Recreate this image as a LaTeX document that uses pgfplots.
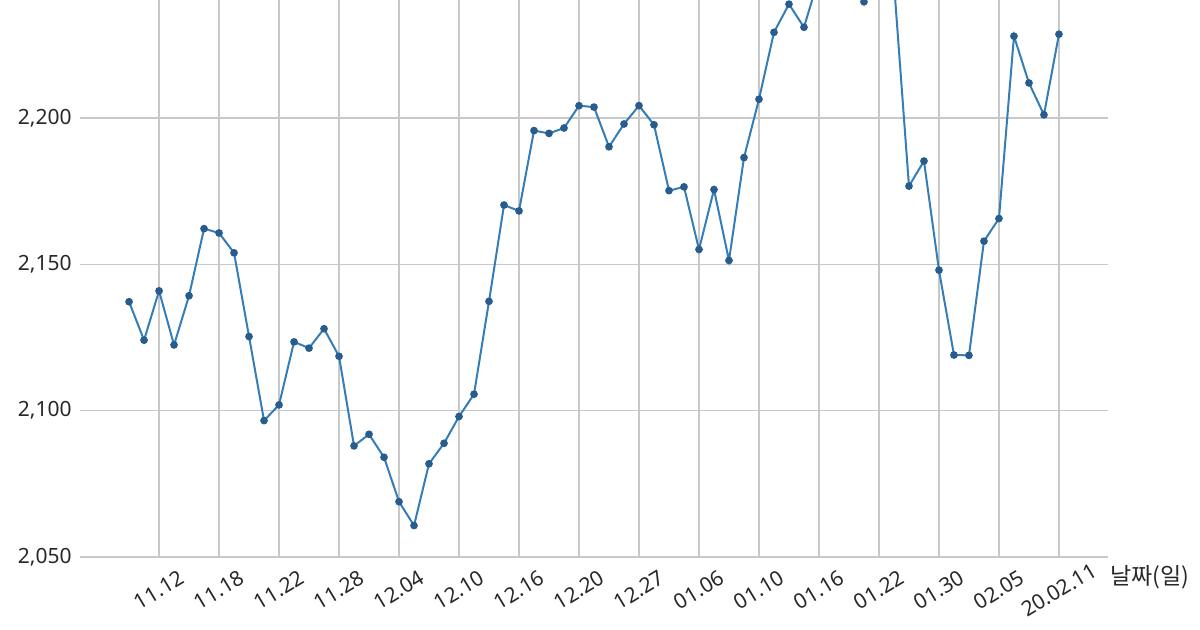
\documentclass[border=0pt]{standalone}
\usepackage{fontspec}
\setmainfont{Noto Sans}
\newfontfamily\cjk{Noto Sans CJK KR}
\usepackage{graphicx}
\usepackage{pgfplots}
\pgfplotsset{compat=1.18}
\definecolor{lineblue}{RGB}{52,125,185}
\definecolor{markblue}{RGB}{40,92,140}
\definecolor{gridgray}{RGB}{200,200,200}
\definecolor{txt}{RGB}{40,40,40}
\newcommand{\rl}[1]{\rotatebox{31}{#1}}
\begin{document}
\begin{tikzpicture}
\useasboundingbox (0,0) rectangle (600pt,315pt);
\begin{axis}[
  at={(40pt,36.5pt)}, anchor=south west,
  scale only axis, width=514pt, height=278.5pt,
  xmin=-3.27, xmax=65.27, ymin=2050, ymax=2240.3,
  axis line style={draw=none},
  major tick length=0pt,
  grid=major,
  major grid style={gridgray, line width=0.7pt},
  xtick={2,6,10,14,18,22,26,30,34,38,42,46,50,54,58,62},
  xticklabels={\rl{11.12},\rl{11.18},\rl{11.22},\rl{11.28},\rl{12.04},\rl{12.10},\rl{12.16},\rl{12.20},\rl{12.27},\rl{01.06},\rl{01.10},\rl{01.16},\rl{01.22},\rl{01.30},\rl{02.05},\rl{20.02.11}},
  ytick={2050,2100,2150,2200},
  yticklabels={{2,050},{2,100},{2,150},{2,200}},
  xticklabel style={anchor=center, yshift=-16.5pt, font=\fontsize{10.5}{12}\selectfont, text=txt, inner sep=0pt},
  yticklabel style={anchor=east, xshift=-4pt, font=\fontsize{10.5}{12}\selectfont, text=txt, inner sep=0pt},
  xlabel={\cjk 날짜(일)},
  xlabel style={at={(rel axis cs:1,0)}, anchor=west, xshift=1pt, yshift=-10pt, inner sep=0pt, font=\fontsize{11.5}{13}\selectfont, text=txt},
  clip=true,
]
\addplot[lineblue, line width=1pt, mark=*, mark size=1.4pt, mark options={fill=markblue, draw=markblue}] table {
x y
0 2137.21
1 2124.08
2 2140.92
3 2122.45
4 2139.25
5 2162.18
6 2160.69
7 2153.92
8 2125.32
9 2096.60
10 2101.96
11 2123.50
12 2121.35
13 2127.99
14 2118.57
15 2087.96
16 2091.92
17 2084.07
18 2068.89
19 2060.74
20 2081.85
21 2088.84
22 2098.00
23 2105.62
24 2137.35
25 2170.25
26 2168.23
27 2195.68
28 2194.72
29 2196.56
30 2204.18
31 2203.71
32 2190.14
33 2197.93
34 2204.21
35 2197.67
36 2175.17
37 2176.46
38 2155.07
39 2175.54
40 2151.31
41 2186.45
42 2206.39
43 2229.26
44 2238.88
45 2230.98
46 2248.05
47 2250.57
48 2262.64
49 2239.69
50 2267.25
51 2246.13
52 2176.72
53 2185.28
54 2148.00
55 2119.01
56 2118.88
57 2157.90
58 2165.63
59 2227.94
60 2211.95
61 2201.07
62 2228.60
};
\end{axis}
\end{tikzpicture}
\end{document}
